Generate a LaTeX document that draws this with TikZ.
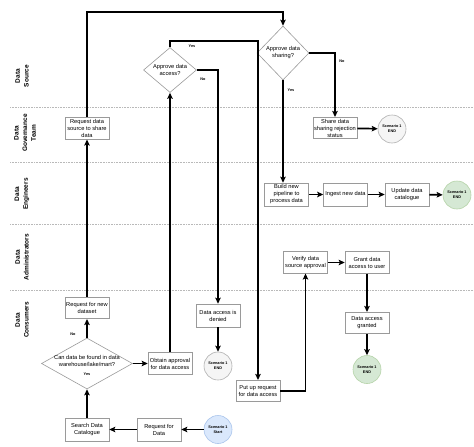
\documentclass[tikz,border=0pt]{standalone}
\usepackage{fontspec}
\setmainfont{Liberation Sans}
\usetikzlibrary{arrows.meta,shapes.geometric}
\definecolor{boxline}{HTML}{9A9A9A}
\definecolor{grayfill}{HTML}{F5F5F5}
\definecolor{grayline}{HTML}{B0B0B0}
\definecolor{greenfill}{HTML}{D5E8D4}
\definecolor{greenline}{HTML}{B5D3A8}
\definecolor{bluefill}{HTML}{DAE8FC}
\definecolor{blueline}{HTML}{A9C4EB}
\tikzset{
  box/.style={draw=boxline, line width=0.6pt, fill=white, rectangle, minimum width=44pt, minimum height=21.5pt, inner sep=0.5pt, align=center, font=\fontsize{5.7}{7}\selectfont},
  dia/.style={draw=boxline, line width=0.6pt, fill=white, diamond, inner sep=0pt},
  diatext/.style={align=center, font=\fontsize{5.7}{7}\selectfont, inner sep=0pt},
  endgray/.style={circle, draw=grayline, fill=grayfill, line width=0.6pt, minimum size=28pt, inner sep=0pt, align=center, font=\bfseries\fontsize{3.8}{4.8}\selectfont},
  endgreen/.style={endgray, draw=greenline, fill=greenfill},
  startblue/.style={endgray, draw=blueline, fill=bluefill},
  lane/.style={rotate=90, align=center, font=\bfseries\fontsize{6.5}{8.6}\selectfont},
  lanesep/.style={draw=gray!55, line width=0.6pt, dash pattern=on 0.8pt off 0.8pt},
  arr/.style={line width=1.7pt, -{Stealth[length=6pt,width=5.5pt,inset=1.2pt]}},
  lbl/.style={font=\bfseries\fontsize{3.8}{4.6}\selectfont, inner sep=0pt}
}
\begin{document}
\begin{tikzpicture}[x=1pt,y=-1pt]
\useasboundingbox (0,0) rectangle (474,447);
% lane separators
\foreach \yy in {107,162,224,290} \draw[lanesep] (10,\yy) -- (474,\yy);
% lane labels
\node[lane] (lsrc) at (22,76) {Data\\Source};
\node[lane] (lgov) at (25,133) {Data\\Governance\\Team};
\node[lane] (leng) at (22,194) {Data\\Engineers};
\node[lane] (ladm) at (22,257) {Data\\Administrators};
\node[lane] (lcon) at (22,320) {Data\\Consumers};
% coordinates for routing
\coordinate (ytop) at (0,12);
\coordinate (yyes) at (0,41);
% nodes
\node[box] (rds) at (87,128.5) {Request data\\source to share\\data};
\node[dia, minimum width=53pt, minimum height=45pt] (ada) at (170,70) {};
\node[diatext] (adat) at (ada.center) {Approve data\\access?};
\node[dia, minimum width=52pt, minimum height=54pt] (ads) at (283,53) {};
\node[diatext] (adst) at (ads.center) {Approve data\\sharing?};
\node[box] (share) at (335,128) {Share data\\sharing rejection\\status};
\node[endgray] (end1) at (392,129) {Scenario 1\\END};
\node[box, minimum height=23pt] (build) at (286.5,194.5) {Build new\\pipeline to\\process data};
\node[box, minimum height=23pt] (ingest) at (345.5,194.5) {Ingest new data};
\node[box, minimum height=23pt] (update) at (407,194.5) {Update data\\catalogue};
\node[endgreen] (end2) at (457,195) {Scenario 1\\END};
\node[box] (verify) at (305.5,262.5) {Verify data\\source approval};
\node[box] (grant) at (367,262.5) {Grant data\\access to user};
\node[box] (granted) at (367,323) {Data access\\granted};
\node[endgreen] (end3) at (367,369.5) {Scenario 1\\END};
\node[box] (put) at (258,391) {Put up request\\for data access};
\node[box] (rnd) at (87,308) {Request for new\\dataset};
\node[box, minimum height=23pt] (denied) at (218,315.5) {Data access is\\denied};
\node[endgray] (end4) at (218,366) {Scenario 1\\END};
\node[dia, minimum width=91pt, minimum height=51pt] (cdf) at (87,363.5) {};
\node[diatext] (cdft) at (87,361) {Can data be found in data\\warehouse/lake/mart?};
\node[box] (obtain) at (170,363.5) {Obtain approval\\for data access};
\node[box, minimum height=23pt] (search) at (87,429.5) {Search Data\\Catalogue};
\node[box, minimum height=23pt] (reqd) at (159,429.5) {Request for\\Data};
\node[startblue] (start) at (218,429.5) {Scenario 1\\Start};
% connectors
\draw[arr] (start) -- (reqd);
\draw[arr] (reqd) -- (search);
\draw[arr] (search) -- (cdf);
\draw[arr] (cdf) -- (rnd);
\draw[arr] (cdf) -- (obtain);
\draw[arr] (rnd) -- (rds);
\draw[arr] (rds.north) -- (rds.north |- ytop) -| (ads.north);
\draw[arr] (ads.south) -- (ads.south |- build.north);
\draw[arr] (ads.east) -| (share.north);
\draw[arr] (share) -- (end1);
\draw[arr] (build) -- (ingest);
\draw[arr] (ingest) -- (update);
\draw[arr] (update) -- (end2);
\draw[arr] (obtain) -- (ada);
\draw[arr] (ada.north) -- (ada.north |- yyes) -| (put.north);
\draw[arr] (ada.east) -| (denied.north);
\draw[arr] (denied) -- (end4);
\draw[arr] (put.east) -| (verify.south);
\draw[arr] (verify) -- (grant);
\draw[arr] (grant) -- (granted);
\draw[arr] (granted) -- (end3);
% edge labels
\node[lbl] (l1) at (192,46) {Yes};
\node[lbl] (l2) at (203,79) {No};
\node[lbl] (l3) at (291,90) {Yes};
\node[lbl] (l4) at (342,61) {No};
\node[lbl] (l5) at (73,334.5) {No};
\node[lbl] (l6) at (87,374.5) {Yes};
\end{tikzpicture}
\end{document}
